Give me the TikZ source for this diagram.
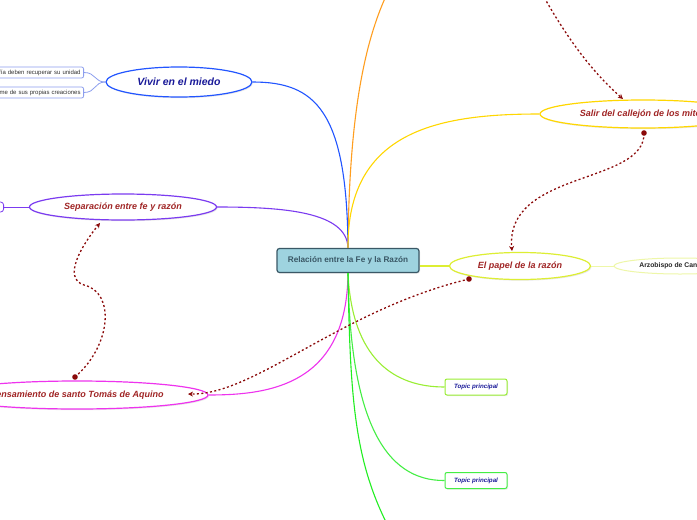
\documentclass[tikz,border=0pt]{standalone}
\usepackage{fontspec}
\setmainfont{Liberation Sans}
\usetikzlibrary{shapes.geometric,arrows.meta,shadows}
\definecolor{relred}{HTML}{8B0A0A}
\definecolor{txtred}{HTML}{A02525}
\definecolor{txtblue}{HTML}{1A1A99}
\definecolor{cfill}{HTML}{9ED3DF}
\definecolor{cdraw}{HTML}{3A5866}
\definecolor{cblue}{HTML}{2255FF}
\definecolor{cpurp}{HTML}{7B3BF0}
\definecolor{cmag}{HTML}{EE33EE}
\definecolor{cyel}{HTML}{FFD700}
\definecolor{cyg}{HTML}{DDEE33}
\definecolor{clyg}{HTML}{EEF7A8}
\definecolor{corange}{HTML}{FF9E1F}
\definecolor{cg1}{HTML}{99EE33}
\definecolor{cg2}{HTML}{44EE44}
\definecolor{cg3}{HTML}{22EE22}
\definecolor{cbox}{HTML}{8C9EEE}
\begin{document}
\begin{tikzpicture}[x=1pt,y=-1pt,
  shad/.style={drop shadow={opacity=0.18,shadow xshift=1pt,shadow yshift=-1.2pt}},
  topic/.style={ellipse,draw,line width=1.2pt,fill=white,shad,inner sep=0pt,
     font=\bfseries\itshape\fontsize{9}{10}\selectfont,text=txtred},
  subbox/.style={rectangle,rounded corners=2pt,draw=cbox,line width=0.8pt,fill=white,
     inner sep=0pt,minimum height=11pt,font=\fontsize{6}{7}\selectfont,text=black!80,
     text width=160pt,align=right},
  tpbox/.style={rectangle,rounded corners=2pt,line width=1pt,fill=white,shad,inner sep=0pt,
     minimum width=62pt,minimum height=16pt,font=\bfseries\itshape\fontsize{6.2}{7}\selectfont,text=txtblue},
  branch/.style={line width=1.1pt},
  rel/.style={draw=relred,line width=1.3pt,dash pattern=on 2pt off 2.4pt,
     -{Stealth[length=5pt,width=5pt]}},
  dot/.style={fill=relred}
]
\useasboundingbox[fill=white] (0,0) rectangle (697,520);

% central
\node[rectangle,rounded corners=2.5pt,draw=cdraw,line width=1.2pt,fill=cfill,shad,
  minimum width=142pt,minimum height=24pt,inner sep=0pt,
  font=\bfseries\fontsize{8.2}{9}\selectfont,text=cdraw] (c) at (348,260.5) {Relación entre la Fe y la Razón};

% topics
\node[topic,draw=cblue,minimum width=146pt,minimum height=30pt,text=txtblue,
  font=\bfseries\itshape\fontsize{10.5}{12}\selectfont] (vivir) at (179,82) {Vivir en el miedo};
\node[topic,draw=cpurp,minimum width=187pt,minimum height=26pt] (sep) at (123,207) {Separación entre fe y razón};
\node[topic,draw=cmag,minimum width=262pt,minimum height=28pt] (pens) at (77,395) {Pensamiento de santo Tomás de Aquino};
\node[topic,draw=cyel,minimum width=206pt,minimum height=28pt] (salir) at (643,114) {Salir del callejón de los mitos};
\node[topic,draw=cyg,minimum width=141pt,minimum height=27pt] (papel) at (520,266) {El papel de la razón};
\node[ellipse,draw=clyg,line width=1pt,fill=white,inner sep=0pt,minimum width=132pt,minimum height=16pt,
  font=\bfseries\fontsize{6.8}{7}\selectfont,text=black!85] (arz) at (680,266) {Arzobispo de Canterbury};

% subtopic boxes
\node[subbox,anchor=east] (b1) at (84,72.5) {fe y la filosofía deben recuperar su unidad\hspace*{3pt}};
\node[subbox,anchor=east] (b2) at (84,92.5) {el hombre teme de sus propias creaciones\hspace*{3pt}};
\node[rectangle,rounded corners=3pt,draw=cpurp,line width=0.8pt,fill=white,anchor=east,
  minimum width=40pt,minimum height=10pt,inner sep=0pt] (sb) at (4,207) {};

\node[tpbox,draw=cg1] (t1) at (476,387) {Topic principal};
\node[tpbox,draw=cg2] (t2) at (476,480.5) {Topic principal};

% free ends
\coordinate (otop) at (386,-4);
\coordinate (gbot) at (387,524);

% branches
\draw[branch,draw=corange] (c.north) .. controls (349,110) and (366,40) .. (otop);
\draw[branch,draw=cblue] (c.north) .. controls (347,110) and (315,82) .. (vivir.east);
\draw[branch,draw=cpurp] (c.north) .. controls (347,212) and (285,207) .. (sep.east);
\draw[branch,draw=cyel] (c.north) .. controls (347,130) and (440,114) .. (salir.west);
\draw[branch,draw=cyg] (c.east |- papel) -- (papel.west);
\draw[line width=1pt,draw=clyg] (papel.east) -- (arz.west);
\draw[branch,draw=cmag] (c.south) .. controls (347,385) and (270,395) .. (pens.east);
\draw[branch,draw=cg1] (c.south) .. controls (352,360) and (395,387) .. (t1.west);
\draw[branch,draw=cg2] (c.south) .. controls (350,420) and (385,481) .. (t2.west);
\draw[branch,draw=cg3] (c.south) .. controls (350,400) and (355,460) .. (gbot);
\draw[line width=0.8pt,draw=cbox] (vivir.west) .. controls (94,82) and (96,72.5) .. (b1.east);
\draw[line width=0.8pt,draw=cbox] (vivir.west) .. controls (94,82) and (96,92.5) .. (b2.east);
\draw[line width=0.8pt,draw=cpurp] (sep.west) -- (sb.east);

% relationships
\coordinate (r1s) at (540,-10);
\coordinate (r2s) at (644,133);
\coordinate (r3s) at (469,279);
\coordinate (r4s) at (75,377);
\coordinate (r1e) at (623,99);
\coordinate (r2e) at (512,251);
\coordinate (r3e) at (188,394);
\coordinate (r4m) at (84,285);
\coordinate (r4e) at (100,223);
\draw[rel] (r1s) .. controls (565,35) and (590,70) .. (r1e);
\draw[rel] (r2s) .. controls (645,185) and (505,170) .. (r2e);
\draw[rel] (r3s) .. controls (340,310) and (255,395) .. (r3e);
\draw[rel] (r4s) .. controls (112,345) and (115,292) .. (r4m) .. controls (62,278) and (82,245) .. (r4e);
\fill[dot] (r2s) circle (2.8pt);
\fill[dot] (r3s) circle (2.8pt);
\fill[dot] (r4s) circle (2.8pt);
\end{tikzpicture}
\end{document}
